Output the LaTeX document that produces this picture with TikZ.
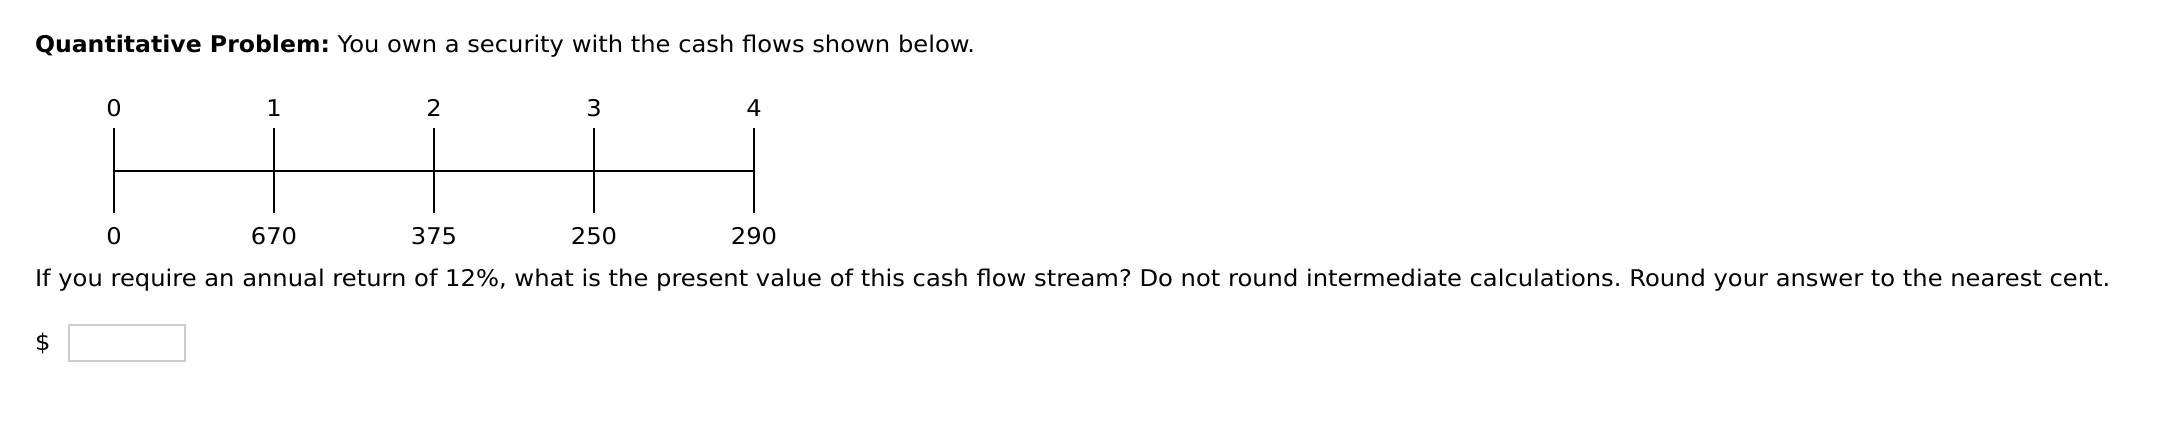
\documentclass[tikz,border=0pt]{standalone}
\usepackage{fontspec}
\setmainfont[FakeStretch=1.053, BoldFeatures={FakeStretch=1.025}]{DejaVu Sans}
\frenchspacing
\tikzset{
  txt/.style={inner sep=0pt, outer sep=0pt, anchor=base west, font=\fontsize{23}{28}\selectfont},
  lab/.style={inner sep=0pt, outer sep=0pt, anchor=base, font=\fontsize{23}{28}\selectfont},
  axis/.style={line width=2pt, black},
  tick/.style={line width=2pt, black},
  ansbox/.style={draw=black!20, line width=2pt, inner sep=0pt, minimum width=116pt, minimum height=36pt, anchor=north west}
}
\begin{document}
\begin{tikzpicture}[x=1pt,y=-1pt]
\useasboundingbox (0,0) rectangle (2160,432);
\node[txt] (title) at (35,52) {\textbf{Quantitative Problem:} You own a security with the cash flows shown below.};
% tick coordinates
\foreach \i/\x in {0/114,1/274,2/434,3/594,4/754}{
  \coordinate (t\i) at (\x,128);
  \coordinate (b\i) at (\x,213);
  \coordinate (m\i) at (\x,171);
  \node[lab] (p\i) at (\x,116) {\i};
  \draw[tick] (t\i) -- (b\i);
}
\draw[axis] (m0) -- (m4);
\node[lab] (c0) at (114,244) {0};
\node[lab] (c1) at (274,244) {670};
\node[lab] (c2) at (434,244) {375};
\node[lab] (c3) at (594,244) {250};
\node[lab] (c4) at (754,244) {290};
\node[txt] (q) at (35,286) {If you require an annual return of 12\%, what is the present value of this cash flow stream? Do not round intermediate calculations. Round your answer to the nearest cent.};
\node[txt] (dollar) at (35,350) {\$};
\node[ansbox] (ans) at (68,324) {};
\end{tikzpicture}
\end{document}
